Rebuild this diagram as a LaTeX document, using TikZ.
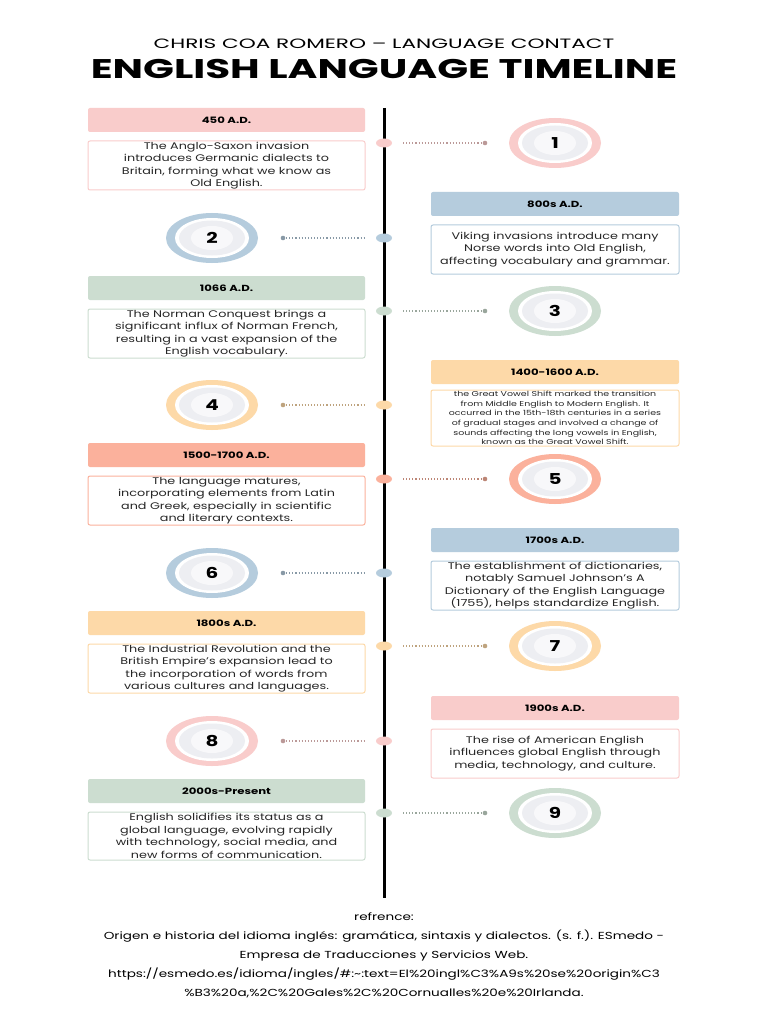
\documentclass[tikz,border=0pt]{standalone}
\usepackage{fontspec}
\setmainfont{Poppins}[FakeStretch=1.33]
\newfontfamily\subfont{Poppins}[FakeStretch=1.6]
\newfontfamily\titlefont{Poppins}[FakeStretch=1.5]
\definecolor{cpink}{HTML}{F9CCCB}
\definecolor{cblue}{HTML}{B5CCDD}
\definecolor{cgreen}{HTML}{CCDDD0}
\definecolor{corange}{HTML}{FDD9A8}
\definecolor{csalmon}{HTML}{FBB19C}
\definecolor{cinner}{HTML}{EDEEF2}
\newcommand\lbox[6]{% color, hy1, ty1, ty2, header, text
  \fill[#1,rounded corners=2pt] (88,#2) rectangle (365,#2+24);
  \node[ht] at (226.5,#2+12) {#5};
  \draw[#1,txt] (88,#3) rectangle (365,#4);
  \node[tt] at (226.5,{(#3+#4)/2}) {#6};}
\newcommand\rbox[7]{% color, hy1, ty1, ty2, header, text, font
  \fill[#1,rounded corners=2pt] (431,#2) rectangle (679,#2+24);
  \node[ht] at (555,#2+12) {#5};
  \draw[#1,txt] (431,#3) rectangle (679,#4);
  \node[tt,#7] at (555,{(#3+#4)/2}) {#6};}
\newcommand\numcirc[4]{% color, cx, cy, num
  \fill[#1] (#2,#3) ellipse [x radius=46,y radius=25];
  \fill[white] (#2,#3) ellipse [x radius=37,y radius=20];
  \fill[cinner] (#2,#3) ellipse [x radius=33,y radius=17.5];
  \fill[white!60!cinner] (#2,#3) ellipse [x radius=21,y radius=12];
  \node[font=\bfseries\fontsize{15}{18}\selectfont] at (#2,#3) {#4};}
\newcommand\rconn[2]{% color, y
  \fill[#1] (384,#2) ellipse [x radius=8,y radius=4.5];
  \draw[#1!75!black,dotted,line width=1.1pt] (403,#2) -- (485,#2);
  \fill[#1!75!black] (485,#2) circle (2.3);}
\newcommand\lconn[2]{%
  \fill[#1] (384,#2) ellipse [x radius=8,y radius=4.5];
  \draw[#1!75!black,dotted,line width=1.1pt] (283,#2) -- (365,#2);
  \fill[#1!75!black] (283,#2) circle (2.3);}
\begin{document}
\begin{tikzpicture}[x=1pt,y=-1pt,
  txt/.style={rounded corners=2pt,line width=1pt,fill=white},
  tt/.style={align=center,font=\fontsize{9.6}{12.5}\selectfont,text=black!85},
  small/.style={font=\fontsize{7.1}{9.6}\selectfont},
  normal/.style={},
  ht/.style={font=\bfseries\fontsize{8.8}{11}\selectfont}]
\useasboundingbox[fill=white] (0,0) rectangle (768,1024);
\node (sub) at (384,44) {\subfont\fontsize{13.5}{16}\selectfont CHRIS COA ROMERO – LANGUAGE CONTACT};
\node (title) at (384,69) {\titlefont\bfseries\fontsize{27}{30}\selectfont ENGLISH LANGUAGE TIMELINE};
\coordinate (ltop) at (384,108); \coordinate (lbot) at (384,898);
\draw[line width=3pt] (ltop) -- (lbot);
\lbox{cpink}{108}{141}{190}{450 A.D.}{The Anglo-Saxon invasion\\introduces Germanic dialects to\\Britain, forming what we know as\\Old English.}
\rconn{cpink}{143}\numcirc{cpink}{555}{143}{1}
\rbox{cblue}{192}{225}{274}{800s A.D.}{Viking invasions introduce many\\Norse words into Old English,\\affecting vocabulary and grammar.}{normal}
\lconn{cblue}{238}\numcirc{cblue}{212}{238}{2}
\lbox{cgreen}{276}{309}{358}{1066 A.D.}{The Norman Conquest brings a\\significant influx of Norman French,\\resulting in a vast expansion of the\\English vocabulary.}
\rconn{cgreen}{311}\numcirc{cgreen}{555}{311}{3}
\rbox{corange}{360}{390}{446}{1400-1600 A.D.}{the Great Vowel Shift marked the transition\\from Middle English to Modern English. It\\occurred in the 15th-18th centuries in a series\\of gradual stages and involved a change of\\sounds affecting the long vowels in English,\\known as the Great Vowel Shift.}{small}
\lconn{corange}{405}\numcirc{corange}{212}{405}{4}
\lbox{csalmon}{443}{476}{525}{1500-1700 A.D.}{The language matures,\\incorporating elements from Latin\\and Greek, especially in scientific\\and literary contexts.}
\rconn{csalmon}{479}\numcirc{csalmon}{555}{479}{5}
\rbox{cblue}{528}{561}{610}{1700s A.D.}{The establishment of dictionaries,\\notably Samuel Johnson's A\\Dictionary of the English Language\\(1755), helps standardize English.}{normal}
\lconn{cblue}{573}\numcirc{cblue}{212}{573}{6}
\lbox{corange}{611}{644}{693}{1800s A.D.}{The Industrial Revolution and the\\British Empire's expansion lead to\\the incorporation of words from\\various cultures and languages.}
\rconn{corange}{646}\numcirc{corange}{555}{646}{7}
\rbox{cpink}{696}{729}{778}{1900s A.D.}{The rise of American English\\influences global English through\\media, technology, and culture.}{normal}
\lconn{cpink}{741}\numcirc{cpink}{212}{741}{8}
\lbox{cgreen}{779}{812}{860}{2000s-Present}{English solidifies its status as a\\global language, evolving rapidly\\with technology, social media, and\\new forms of communication.}
\rconn{cgreen}{813}\numcirc{cgreen}{555}{813}{9}
\node[align=center,font=\fontsize{10.2}{19}\selectfont] (ref) at (384,955) {refrence:\\Origen e historia del idioma inglés: gramática, sintaxis y dialectos. (s. f.). ESmedo -\\Empresa de Traducciones y Servicios Web.\\https://esmedo.es/idioma/ingles/\#:\textasciitilde:text=El\%20ingl\%C3\%A9s\%20se\%20origin\%C3\\\%B3\%20a,\%2C\%20Gales\%2C\%20Cornualles\%20e\%20Irlanda.};
\end{tikzpicture}
\end{document}
